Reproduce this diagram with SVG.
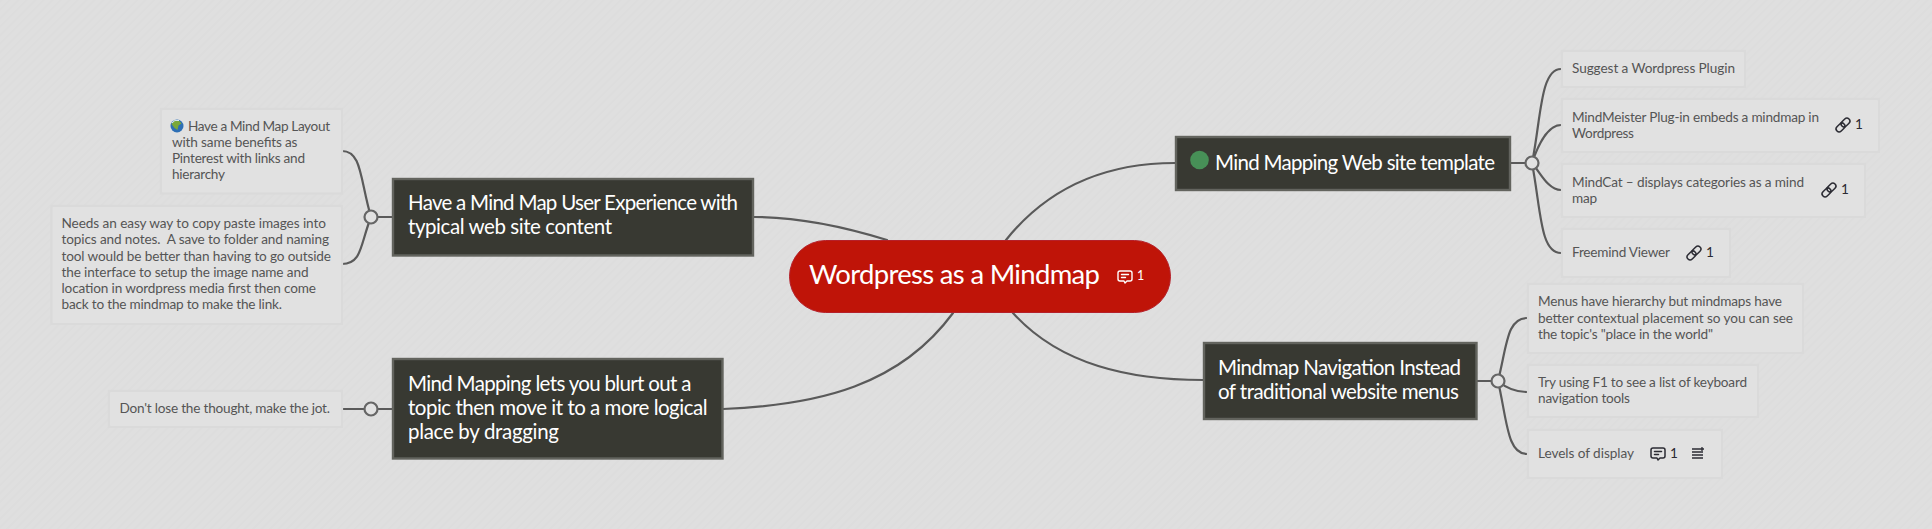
<svg xmlns="http://www.w3.org/2000/svg" width="1932" height="529" viewBox="0 0 1932 529">
<style>
text{font-family:"Lato","Noto Sans","Liberation Sans",sans-serif}
.n rect{fill:#383932;stroke:#63645e;stroke-width:2.400}
.n text{fill:#fff;font-size:20.500px}
.s rect{fill:#e1e1e1;stroke:#dadada;stroke-width:2.200}
.s text{fill:#555;font-size:13.600px}
.s text.c{fill:#2b2b33}
.l{fill:none;stroke:#5a5a5a;stroke-width:2.200;stroke-linecap:round}
.o{fill:#e2e2e2;stroke:#666;stroke-width:2.200}
.i{fill:none;stroke:#2b2b33;stroke-width:1.500;stroke-linecap:round;stroke-linejoin:round}
</style>
<defs>
<pattern id="bg" width="6" height="6" patternUnits="userSpaceOnUse" patternTransform="rotate(-45)">
<rect width="6" height="6" fill="#dfdfdf"/><rect width="6" height="2" fill="#dddddd"/>
</pattern>
<g id="link"><g class="i" transform="rotate(-45)"><rect x="-8.500" y="-3" width="10" height="6" rx="3"/><rect x="-1.500" y="-3" width="10" height="6" rx="3"/></g></g>
<g id="cmt"><path class="i" d="M-5 -6h10a2 2 0 0 1 2 2v6a2 2 0 0 1-2 2h-3l-2 2-1-2h-4a2 2 0 0 1-2-2v-6a2 2 0 0 1 2-2zM-3.500 -2.500h7M-3.500 0.500h4"/></g>
</defs>
<rect width="1932" height="529" fill="url(#bg)"/>
<g id="connectors">
<path class="l" d="M1006 240C1050 185 1110 163 1175 163"/>
<path class="l" d="M754 217C800 217 845 227 887 240"/>
<path class="l" d="M723 409C820 405 900 385 953 313"/>
<path class="l" d="M1203 380C1130 380 1060 365 1013 313"/>
<path class="l" d="M1511 163H1532"/>
<path class="l" d="M1532 163C1541 120 1540 69 1561 69"/>
<path class="l" d="M1532 163C1538 145 1548 125 1561 125"/>
<path class="l" d="M1532 163C1540 172 1548 190 1561 190"/>
<path class="l" d="M1532 163C1541 210 1540 253 1561 253"/>
<path class="l" d="M1477 381H1498"/>
<path class="l" d="M1498 381C1507 345 1507 318 1527 318"/>
<path class="l" d="M1498 381C1505 387 1515 392 1527 392"/>
<path class="l" d="M1498 381C1507 420 1507 454 1527 454"/>
<path class="l" d="M392 217H371"/>
<path class="l" d="M371 217C360 180 362 151 342 151"/>
<path class="l" d="M371 217C360 245 362 264 342 264"/>
<path class="l" d="M392 409H342"/>
<circle class="o" cx="1532" cy="163" r="6.500"/>
<circle class="o" cx="1498" cy="381" r="6.500"/>
<circle class="o" cx="371" cy="217" r="6.500"/>
<circle class="o" cx="371" cy="409" r="6.500"/>
</g>
<g id="root">
<rect x="789.500" y="240.500" width="381" height="72" rx="36" fill="#bf1408" stroke="#b5202a" stroke-width="1"/>
<text x="809" y="284" fill="#fff" font-size="27.500" textLength="291">Wordpress as a Mindmap</text>
<g transform="translate(1125 277)"><path fill="none" stroke="#fff" stroke-width="1.400" stroke-linecap="round" stroke-linejoin="round" d="M-5 -6h10a2 2 0 0 1 2 2v6a2 2 0 0 1-2 2h-3l-2 2-1-2h-4a2 2 0 0 1-2-2v-6a2 2 0 0 1 2-2zM-3.500 -2.500h7M-3.500 0.500h4"/></g>
<text x="1137" y="280" fill="#fff" font-size="12.500">1</text>
</g>
<g id="n-experience" class="n">
<rect x="393" y="179" width="360" height="76.500"/>
<text x="408" y="210" textLength="330">Have a Mind Map User Experience with</text>
<text x="408" y="234" textLength="204">typical web site content</text>
</g>
<g id="n-blurt" class="n">
<rect x="393" y="359" width="329.500" height="99.500"/>
<text x="408" y="391" textLength="283.500">Mind Mapping lets you blurt out a</text>
<text x="408" y="415" textLength="299.500">topic then move it to a more logical</text>
<text x="408" y="439" textLength="151">place by dragging</text>
</g>
<g id="n-template" class="n">
<rect x="1176" y="137" width="334" height="53"/>
<circle cx="1199.500" cy="160" r="9.300" fill="#479057"/>
<text x="1215" y="170" textLength="280">Mind Mapping Web site template</text>
</g>
<g id="n-nav" class="n">
<rect x="1204" y="343" width="272.500" height="76"/>
<text x="1218" y="375" textLength="243">Mindmap Navigation Instead</text>
<text x="1218" y="399" textLength="241">of traditional website menus</text>
</g>
<g id="s-layout" class="s">
<rect x="161" y="109" width="181" height="84.500"/>
<circle cx="177" cy="126" r="6.500" fill="#2e6fb5"/>
<path d="M174 120.500c3-1 6 0 7.500 3l-3 2-1 4.500-3-2-3-4z" fill="#7aa83a"/>
<path d="M172 123a6 6 0 0 1 7-2.500" fill="none" stroke="#dcebf7" stroke-width="1"/>
<text x="188" y="131" textLength="142">Have a Mind Map Layout</text>
<text x="172" y="147" textLength="125.500">with same benefits as</text>
<text x="172" y="163" textLength="133">Pinterest with links and</text>
<text x="172" y="179" textLength="53">hierarchy</text>
</g>
<g id="s-needs" class="s">
<rect x="51.500" y="206" width="290.500" height="118"/>
<text x="61.500" y="228" textLength="264.500">Needs an easy way to copy paste images into</text>
<text x="61.500" y="244" xml:space="preserve" textLength="267.500">topics and notes.  A save to folder and naming</text>
<text x="61.500" y="260.500" textLength="269.500">tool would be better than having to go outside</text>
<text x="61.500" y="276.500" textLength="247">the interface to setup the image name and</text>
<text x="61.500" y="292.500" textLength="254.500">location in wordpress media first then come</text>
<text x="61.500" y="309" textLength="220.500">back to the mindmap to make the link.</text>
</g>
<g id="s-jot" class="s">
<rect x="109" y="391" width="233" height="36"/>
<text x="119.500" y="413" textLength="210.500">Don't lose the thought, make the jot.</text>
</g>
<g id="s-suggest" class="s">
<rect x="1562" y="51" width="183" height="36"/>
<text x="1572" y="73" textLength="163">Suggest a Wordpress Plugin</text>
</g>
<g id="s-meister" class="s">
<rect x="1562" y="99" width="317" height="53"/>
<text x="1572" y="122" textLength="247">MindMeister Plug-in embeds a mindmap in</text>
<text x="1572" y="138" textLength="62">Wordpress</text>
<use href="#link" x="1843" y="125"/>
<text class="c" x="1855" y="129">1</text>
</g>
<g id="s-mindcat" class="s">
<rect x="1562" y="164" width="303" height="53"/>
<text x="1572" y="187" textLength="232">MindCat – displays categories as a mind</text>
<text x="1572" y="203" textLength="25">map</text>
<use href="#link" x="1829" y="190"/>
<text class="c" x="1841" y="194">1</text>
</g>
<g id="s-freemind" class="s">
<rect x="1562" y="229" width="168" height="48"/>
<text x="1572" y="257" textLength="98">Freemind Viewer</text>
<use href="#link" x="1694" y="253"/>
<text class="c" x="1706" y="257">1</text>
</g>
<g id="s-menus" class="s">
<rect x="1528" y="284" width="275" height="69"/>
<text x="1538" y="306" textLength="244">Menus have hierarchy but mindmaps have</text>
<text x="1538" y="322.500" textLength="255">better contextual placement so you can see</text>
<text x="1538" y="339" textLength="175">the topic's "place in the world"</text>
</g>
<g id="s-f1" class="s">
<rect x="1528" y="365" width="230" height="52"/>
<text x="1538" y="387" textLength="209">Try using F1 to see a list of keyboard</text>
<text x="1538" y="403" textLength="92">navigation tools</text>
</g>
<g id="s-levels" class="s">
<rect x="1528" y="430" width="194" height="48"/>
<text x="1538" y="458" textLength="96">Levels of display</text>
<use href="#cmt" x="1658" y="454"/>
<text class="c" x="1670" y="458">1</text>
<path d="M1692 449h8M1692 452h11M1692 455h11M1692 458h11M1702 447v4M1700 449h4" fill="none" stroke="#2b2b33" stroke-width="1.300"/>
</g>
</svg>
